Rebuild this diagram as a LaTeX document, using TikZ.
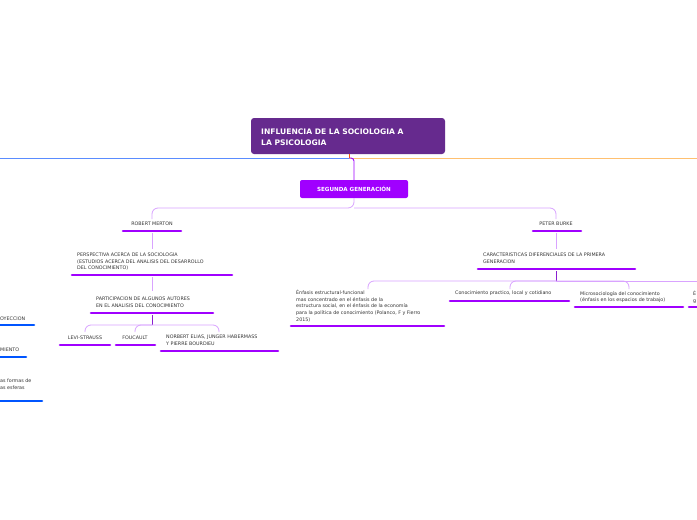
\documentclass[tikz,border=0pt]{standalone}
\usepackage{fontspec}
\setmainfont{DejaVu Sans}
\definecolor{titlec}{HTML}{662A8E}
\definecolor{vio}{HTML}{A000FF}
\definecolor{lvio}{HTML}{D9A3FF}
\definecolor{dvio}{HTML}{8A1FD0}
\definecolor{blu}{HTML}{0055FF}
\definecolor{lblu}{HTML}{5A8CFF}
\definecolor{ora}{HTML}{FFC070}
\definecolor{txt}{HTML}{333333}
\begin{document}
\begin{tikzpicture}[x=1pt,y=-1pt,
  lbl/.style={font=\fontsize{4.8}{6.6}\selectfont,text=txt,inner sep=0pt,align=left},
  bar/.style={vio,line width=2.6pt,line cap=round},
  bbar/.style={blu,line width=2.6pt,line cap=round},
  conn/.style={lvio,line width=0.8pt,rounded corners=6pt},
  ]
\useasboundingbox (0,0) rectangle (697,520);
\clip (0,0) rectangle (697,520);
\fill[white] (0,0) rectangle (697,520);
% title
\node[fill=titlec,rounded corners=3pt,minimum width=194pt,minimum height=36pt,inner sep=0pt] (title) at (348,136) {};
\node[anchor=west,text=white,font=\bfseries\fontsize{7.6}{11}\selectfont,align=left,inner sep=0pt] at (261,137) {INFLUENCIA DE LA SOCIOLOGIA A\\LA PSICOLOGIA};
\coordinate (tb) at (349,154);
\draw[lblu,line width=1pt] (0,158) -- (349,158);
\draw[ora,line width=1pt] (349,158) -- (697,158);
\draw[orange!70!red,line width=1pt] (tb) -- (349,158);
% segunda
\node[fill=vio,rounded corners=2pt,minimum width=108pt,minimum height=18pt,inner sep=0pt,text=white,font=\bfseries\fontsize{5.6}{7}\selectfont] (seg) at (354,189) {SEGUNDA GENERACIÓN};
\draw[vio,line width=0.9pt,rounded corners=3pt] (349,158) -- (354,158) -- (seg.north);
% level 1
\node[lbl,anchor=center] (rm) at (152,224) {ROBERT MERTON};
\node[lbl,anchor=center] (pb) at (556,224) {PETER BURKE};
\draw[bar] (123,231) -- (181,231);
\draw[bar] (533,231) -- (581,231);
\draw[conn] (seg.south) -- (354,208) -- (152,208) -- (152,219);
\draw[conn] (354,208) -- (556,208) -- (556,219);
% merton branch
\node[lbl,anchor=north west] (persp) at (77,253) {PERSPECTIVA ACERCA DE LA SOCIOLOGIA\\(ESTUDIOS ACERCA DEL ANALISIS DEL DESARROLLO\\DEL CONOCIMIENTO)};
\draw[bar] (72,275) -- (232,275);
\draw[lvio,line width=0.8pt] (152,233) -- (152,249);
\node[lbl,anchor=north west] (part) at (96,297) {PARTICIPACION DE ALGUNOS AUTORES\\EN EL ANALISIS DEL CONOCIMIENTO};
\draw[bar] (91,313) -- (213,313);
\draw[lvio,line width=0.8pt] (152,277) -- (152,291);
\draw[dvio,line width=0.9pt] (152,315) -- (152,325);
\node[lbl,anchor=center] (levi) at (85,338) {LEVI-STRAUSS};
\node[lbl,anchor=center] (fou) at (135,338) {FOUCAULT};
\node[lbl,anchor=north west] (nor) at (166,335) {NORBERT ELIAS, JUNGER HABERMASS\\Y PIERRE BOURDIEU};
\draw[bar] (60,345) -- (110,345);
\draw[bar] (116,345) -- (155,345);
\draw[bar] (161,351) -- (278,351);
\draw[conn] (152,325) -- (85,325) -- (85,332);
\draw[conn] (152,325) -- (135,325) -- (135,332);
\draw[conn] (152,325) -- (219,325) -- (219,332);
% burke branch
\node[lbl,anchor=north west] (car) at (483,253) {CARACTERISTICAS DIFERENCIALES DE LA PRIMERA\\GENERACION};
\draw[bar] (478,269) -- (635,269);
\draw[lvio,line width=0.8pt] (556,233) -- (556,249);
\draw[dvio,line width=0.9pt] (556,271) -- (556,281);
\node[lbl,anchor=north west] (enf) at (296,290) {Énfasis estructural-funcional\\mas concentrado en el énfasis de la\\estructura social, en el énfasis de la economía\\para la política de conocimiento (Polanco, F y Fierro\\2015)};
\draw[bar] (291,326) -- (444,326);
\node[lbl,anchor=north west] (con) at (455,291) {Conocimiento practico, local y cotidiano};
\draw[bar] (450,301) -- (569,301);
\node[lbl,anchor=north west] (mic) at (580,291) {Microsociología del conocimiento\\(énfasis en los espacios de trabajo)};
\draw[bar] (575,307) -- (683,307);
\node[lbl,anchor=north west] (ext) at (693,291) {É\\g};
\draw[bar] (689,307) -- (700,307);
\draw[conn] (556,281) -- (368,281) -- (368,289);
\draw[conn] (556,281) -- (510,281) -- (510,289);
\draw[conn] (556,281) -- (629,281) -- (629,289);
\draw[lvio,line width=0.8pt] (556,281) -- (700,281);
% left (blue) fragments
\node[lbl,anchor=west] (l1) at (0,319) {OYECCION};
\draw[bbar] (-5,325) -- (34,325);
\node[lbl,anchor=west] (l2) at (0,350) {MIENTO};
\draw[bbar] (-5,357) -- (26,357);
\node[lbl,anchor=north west] (l3) at (0,379) {as formas de\\as esferas};
\draw[bbar] (-5,401) -- (42,401);
\end{tikzpicture}
\end{document}
